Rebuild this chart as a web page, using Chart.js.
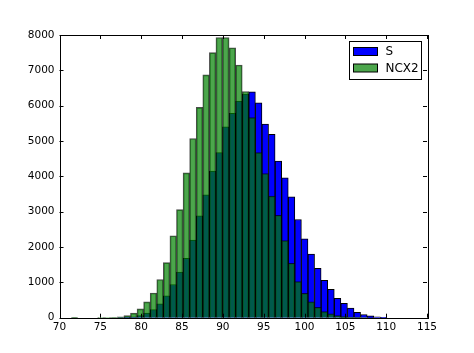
<!DOCTYPE html>
<html>
<head>
<meta charset="utf-8">
<script src="https://cdn.jsdelivr.net/npm/chart.js@4/dist/chart.umd.min.js"></script>
<style>
  html, body { margin: 0; padding: 0; background: #ffffff; }
  #wrap { width: 474px; height: 353px; }
</style>
</head>
<body>
<div id="wrap"><canvas id="c" width="474" height="353"></canvas></div>
<script>
// Bin centres of the histogram (bin width ~0.805)
const binCenters = [
  71.848, 72.653, 73.458, 74.263, 75.068, 75.873, 76.678, 77.483, 78.288, 79.093,
  79.898, 80.703, 81.508, 82.313, 83.118, 83.923, 84.728, 85.533, 86.338, 87.143,
  87.948, 88.753, 89.558, 90.363, 91.168, 91.973, 92.778, 93.583, 94.388, 95.193,
  95.998, 96.803, 97.608, 98.413, 99.218, 100.023, 100.828, 101.633, 102.438, 103.243,
  104.048, 104.853, 105.658, 106.463, 107.268, 108.073, 108.878, 109.683
];
// Series "S" (blue)
const sCounts = [
  0, 0, 0, 0, 0, 0, 0, 4, 10, 25,
  60, 130, 230, 390, 620, 940, 1290, 1680, 2200, 2880,
  3480, 4150, 4670, 5400, 5780, 6130, 6330, 6390, 6080, 5480,
  5190, 4430, 3960, 3420, 2780, 2230, 1800, 1400, 1060, 800,
  550, 410, 270, 150, 90, 50, 25, 10
];
// Series "NCX2" (green, semi-transparent)
const ncx2Counts = [
  8, 0, 0, 0, 2, 5, 12, 25, 60, 130,
  250, 450, 700, 1080, 1560, 2320, 3060, 4100, 5070, 5950,
  6870, 7500, 7930, 7930, 7640, 7150, 6400, 5660, 4670, 4080,
  3440, 2900, 2180, 1540, 1020, 690, 450, 290, 170, 110,
  57, 30, 15, 8, 3, 0, 0, 0
];
const seriesLabels = ["S", "NCX2"];
const xTickValues = [70, 75, 80, 85, 90, 95, 100, 105, 110, 115];
const yTickValues = [0, 1000, 2000, 3000, 4000, 5000, 6000, 7000, 8000];

const FONT = "'DejaVu Sans', 'Liberation Sans', sans-serif";

const frameAndTicks = {
  id: 'frameAndTicks',
  afterDatasetsDraw(chart) {
    const {ctx, chartArea: a, scales} = chart;
    const L = 4;
    ctx.save();
    ctx.strokeStyle = '#000';
    ctx.lineWidth = 1;
    ctx.beginPath();
    xTickValues.forEach(v => {
      const px = Math.round(scales.x.getPixelForValue(v)) + 0.5;
      ctx.moveTo(px, a.bottom); ctx.lineTo(px, a.bottom - L);
      ctx.moveTo(px, a.top); ctx.lineTo(px, a.top + L);
    });
    yTickValues.forEach(v => {
      const py = Math.round(scales.y.getPixelForValue(v)) + 0.5;
      ctx.moveTo(a.left, py); ctx.lineTo(a.left + L, py);
      ctx.moveTo(a.right, py); ctx.lineTo(a.right - L, py);
    });
    ctx.stroke();
    ctx.strokeRect(Math.round(a.left) + 0.5, Math.round(a.top) + 0.5,
                   Math.round(a.right - a.left), Math.round(a.bottom - a.top));
    ctx.restore();
  }
};

const boxLegend = {
  id: 'boxLegend',
  afterDraw(chart) {
    const {ctx, chartArea: a} = chart;
    const w = 72, h = 38;
    const x0 = Math.round(a.right - 6 - w) + 0.5, y0 = Math.round(a.top + 6) + 0.5;
    ctx.save();
    ctx.fillStyle = '#fff';
    ctx.fillRect(x0, y0, w, h);
    ctx.strokeStyle = '#000';
    ctx.lineWidth = 1;
    ctx.strokeRect(x0, y0, w, h);
    ctx.font = '12px ' + FONT;
    ctx.textBaseline = 'middle';
    ctx.textAlign = 'left';
    const items = [chart.data.datasets[0], chart.data.datasets[1]];
    items.forEach((ds, i) => {
      const cy = y0 + 10 + i * 16.5;
      ctx.fillStyle = ds.backgroundColor;
      ctx.fillRect(x0 + 4, cy - 4, 24, 8);
      ctx.strokeStyle = '#000';
      ctx.strokeRect(x0 + 4, cy - 4, 24, 8);
      ctx.fillStyle = '#000';
      ctx.fillText(ds.label, x0 + 36, cy + 0.5);
    });
    ctx.restore();
  }
};

new Chart(document.getElementById('c'), {
  type: 'bar',
  data: {
    datasets: [
      {
        label: seriesLabels[0],
        data: binCenters.map((c, i) => ({x: c, y: sCounts[i]})),
        backgroundColor: 'rgb(0,0,255)',
        borderColor: 'rgb(0,0,0)',
        borderWidth: 1,
        order: 2,
        barPercentage: 1,
        categoryPercentage: 1,
        grouped: false
      },
      {
        label: seriesLabels[1],
        data: binCenters.map((c, i) => ({x: c, y: ncx2Counts[i]})),
        backgroundColor: 'rgba(0,128,0,0.7)',
        borderColor: 'rgba(0,0,0,0.7)',
        borderWidth: 1,
        order: 1,
        barPercentage: 1,
        categoryPercentage: 1,
        grouped: false
      }
    ]
  },
  options: {
    responsive: false,
    animation: false,
    devicePixelRatio: 1,
    layout: { padding: { top: 35, right: 47, left: 0, bottom: 0 } },
    plugins: { legend: { display: false }, tooltip: { enabled: false } },
    scales: {
      x: {
        type: 'linear',
        offset: false,
        min: 70, max: 115,
        afterBuildTicks: s => { s.ticks = xTickValues.map(v => ({value: v})); },
        afterFit: s => { s.height = 35.3; },
        ticks: { color: '#000', font: { family: FONT, size: 10.5 }, padding: 3, maxRotation: 0,
                 callback: v => String(v) },
        grid: { display: false, drawTicks: false, offset: false },
        border: { display: false }
      },
      y: {
        min: 0, max: 8000,
        afterBuildTicks: s => { s.ticks = yTickValues.map(v => ({value: v})); },
        afterFit: s => { s.width = 59.5; },
        ticks: { color: '#000', font: { family: FONT, size: 10.5 }, padding: 5,
                 callback: v => String(v) },
        grid: { display: false, drawTicks: false },
        border: { display: false }
      }
    }
  },
  plugins: [frameAndTicks, boxLegend]
});
</script>
</body>
</html>
